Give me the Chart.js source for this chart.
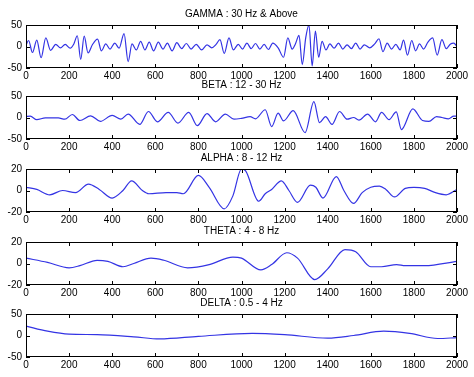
<!DOCTYPE html>
<html>
<head>
<meta charset="utf-8">
<script src="https://cdn.jsdelivr.net/npm/chart.js@4.4.1/dist/chart.umd.min.js"></script>
<style>
  body { margin: 0; background: #fff; overflow: hidden; }
  #wrap { position: relative; width: 474px; height: 377px; }
  #wrap canvas { position: absolute; left: 0; }
</style>
</head>
<body>
<div id="wrap">
  <canvas id="gamma" width="474" height="77" style="top:5px"></canvas>
  <canvas id="beta"  width="474" height="77" style="top:76px"></canvas>
  <canvas id="alpha" width="474" height="77" style="top:149px"></canvas>
  <canvas id="theta" width="474" height="77" style="top:222px"></canvas>
  <canvas id="delta" width="474" height="77" style="top:294px"></canvas>
</div>
<script>
// sample index / amplitude (peaks and troughs)
const gammaT = [0, 12, 30, 50, 70, 92, 114, 138, 160, 182, 205, 222, 238, 254, 270, 288, 308, 332, 350, 370,
  390, 412, 432, 455, 474, 492, 512, 532, 552, 572, 592, 614, 636, 656, 678, 700, 722, 744, 766, 790,
  815, 840, 862, 882, 900, 920, 942, 962, 985, 1005, 1025, 1045, 1065, 1085, 1105, 1125, 1145, 1170, 1195, 1215,
  1235, 1250, 1267, 1282, 1298, 1313, 1328, 1343, 1358, 1374, 1392, 1410, 1430, 1450, 1470, 1490, 1510, 1530, 1550, 1570,
  1595, 1618, 1638, 1656, 1676, 1696, 1716, 1736, 1752, 1770, 1790, 1808, 1826, 1845, 1865, 1887, 1908, 1930, 1950, 1970,
  1985, 2000];
const gammaV = [3, 14, -14, 15, -26, 20, -9, 5, -3, 5, -4, 6, 25, -30, 24, -15, 4, 17, -10, 6,
  -6, 8, -4, 30, -35, 6, -8, 12, -8, 10, -10, 10, -6, 8, -10, 9, -5, 7, -6, 5,
  -8, 4, -3, 5, 16, -16, 20, -8, 5, -6, 8, -5, 7, -6, 5, -7, 8, -3, -25, 20,
  -6, 6, 26, -42, 20, 50, -45, 36, -25, 12, -8, 6, -4, 8, -6, 4, -5, 8, -6, 4,
  -3, 6, 18, -12, 8, -6, 5, -8, 15, -20, 14, -10, 6, -6, 10, 20, -20, 16, -5, 6,
  8, 0];

const betaT = [0, 20, 50, 90, 150, 180, 215, 250, 300, 345, 400, 440, 474, 528, 568, 610, 660, 705, 755, 795,
  840, 880, 925, 965, 1000, 1040, 1065, 1110, 1140, 1170, 1195, 1240, 1295, 1336, 1362, 1390, 1420, 1455, 1490, 1520,
  1545, 1585, 1622, 1650, 1685, 1718, 1742, 1795, 1840, 1870, 1905, 1930, 1960, 1985, 2000];
const betaV = [2, 3, -5, -1, -1, -4, 7, -7, 4, -9, 5, -4, 8, -16, 14, -10, 12, -13, 12, -19,
  9, -10, 8, -4, -2, 2, -3, 18, -21, 10, -8, 16, -35, 37, -12, 2, -16, 14, -4, 0,
  -6, 8, -10, 12, -5, 13, -28, 20, -7, -9, 2, 0, -3, 3, 3];

const alphaT = [0, 50, 110, 170, 230, 290, 340, 400, 450, 490, 540, 570, 650, 700, 730, 800, 850, 920, 960, 1000,
  1020, 1080, 1110, 1140, 1185, 1220, 1260, 1320, 1345, 1378, 1440, 1475, 1520, 1560, 1600, 1640, 1670, 1710, 1760, 1800,
  1850, 1900, 1950, 2000];
const alphaV = [3, 1, -4, 0, -2, 6, 1, -7, 0, 9, 0, -3, -2, -2, -3, 14, 3, -17, -5, 20,
  18, -10, -3, 1, 9, 0, -11, 5, 3, -7, 13, 0, -12, -2, 3, 4, 1, -6, 2, 3,
  2, -2, -4, 1];

const thetaT = [0, 100, 200, 250, 330, 380, 450, 500, 580, 640, 750, 850, 960, 1000, 1090, 1140, 1210, 1260, 1340, 1400,
  1480, 1530, 1600, 1650, 1720, 1760, 1850, 2000];
const thetaV = [5, 1, -4, -2, 3, 2, -3, 0, 5, 3, -4, -1, 6, 5, -6, -1, 10, 5, -15, -5,
  13, 11, -3, -3, -1, -2, -2, 2];

const deltaT = [0, 100, 200, 330, 500, 620, 800, 1050, 1200, 1400, 1520, 1660, 1780, 1910, 2000];
const deltaV = [22, 10, 3, 2, -3, -8, -2, 5, 2, -6, 0, 10, 5, -7, -5];

const titles = ['GAMMA : 30 Hz & Above', 'BETA : 12 - 30 Hz', 'ALPHA : 8 - 12 Hz', 'THETA : 4 - 8 Hz', 'DELTA : 0.5 - 4 Hz'];
const yLimits = [50, 50, 20, 20, 50];
const xMax = 2000;
const xStep = 200;

const tickFont = { family: "'Liberation Sans', Arial, sans-serif", size: 10 };

// MATLAB-style box: frame, inward ticks on all four sides, title over the axes
const matlabAxes = {
  id: 'matlabAxes',
  afterDraw(chart, args, opts) {
    const { ctx, chartArea: a, scales } = chart;
    ctx.save();
    ctx.strokeStyle = '#000';
    ctx.lineWidth = 1;
    ctx.strokeRect(a.left + 0.5, a.top + 0.5, a.width - 1, a.height - 1);
    ctx.beginPath();
    scales.x.ticks.forEach(t => {
      const px = Math.round(scales.x.getPixelForValue(t.value)) + 0.5;
      ctx.moveTo(px, a.bottom); ctx.lineTo(px, a.bottom - 4);
      ctx.moveTo(px, a.top); ctx.lineTo(px, a.top + 4);
    });
    scales.y.ticks.forEach(t => {
      const py = Math.round(scales.y.getPixelForValue(t.value)) + 0.5;
      ctx.moveTo(a.left, py); ctx.lineTo(a.left + 4, py);
      ctx.moveTo(a.right, py); ctx.lineTo(a.right - 4, py);
    });
    ctx.stroke();
    ctx.fillStyle = '#000';
    ctx.font = "10px 'Liberation Sans', Arial, sans-serif";
    ctx.textAlign = 'center';
    ctx.textBaseline = 'middle';
    ctx.fillText(opts.text, (a.left + a.right) / 2, a.top - 11);
    ctx.restore();
  }
};

function makePanel(id, title, t, v, lim) {
  const points = t.map((x, i) => ({ x, y: v[i] }));
  return new Chart(document.getElementById(id), {
    type: 'line',
    data: {
      datasets: [{
        data: points,
        borderColor: '#3434e4',
        borderWidth: 1.2,
        pointRadius: 0,
        cubicInterpolationMode: 'monotone'
      }]
    },
    options: {
      responsive: false,
      animation: false,
      layout: { padding: { top: 20, right: 17, left: 0, bottom: 0 } },
      plugins: {
        legend: { display: false },
        tooltip: { enabled: false },
        matlabAxes: { text: title }
      },
      scales: {
        x: {
          type: 'linear',
          min: 0,
          max: xMax,
          grid: { display: false, drawTicks: false },
          border: { display: false },
          ticks: {
            stepSize: xStep, autoSkip: false, maxRotation: 0, padding: 2, color: '#000', font: tickFont,
            callback: value => String(value)
          },
          afterFit(s) { s.height = 14; }
        },
        y: {
          min: -lim,
          max: lim,
          grid: { display: false, drawTicks: false },
          border: { display: false },
          ticks: { stepSize: lim, padding: 4, color: '#000', font: tickFont, callback: value => String(value) },
          afterFit(s) { s.width = 26; }
        }
      }
    },
    plugins: [matlabAxes]
  });
}

makePanel('gamma', titles[0], gammaT, gammaV, yLimits[0]);
makePanel('beta', titles[1], betaT, betaV, yLimits[1]);
makePanel('alpha', titles[2], alphaT, alphaV, yLimits[2]);
makePanel('theta', titles[3], thetaT, thetaV, yLimits[3]);
makePanel('delta', titles[4], deltaT, deltaV, yLimits[4]);
</script>
</body>
</html>
